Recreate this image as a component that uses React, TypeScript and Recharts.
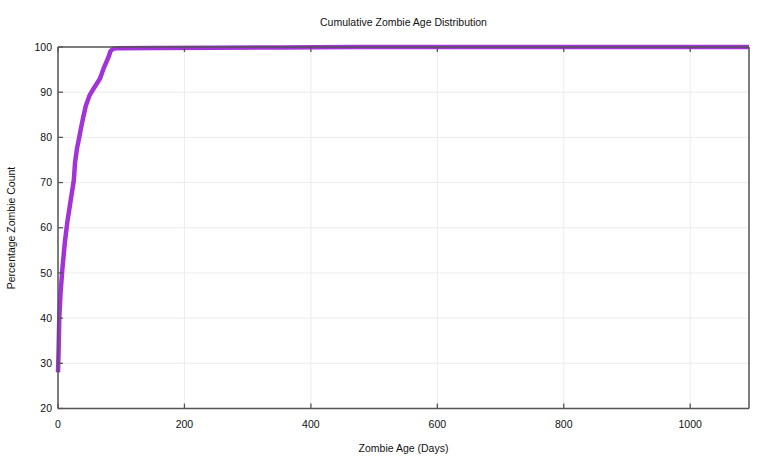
import React from 'react';
import { LineChart, Line, XAxis, YAxis, CartesianGrid } from 'recharts';

// zombie age (days) and cumulative percentage
const ageDays = [0, 1, 2, 4, 7, 11, 15, 20, 25, 27, 30, 34, 37, 40, 44, 50, 55, 60, 66, 69, 72, 77, 80, 83, 87, 95, 150, 250, 350, 470, 600, 800, 1000, 1093];
const cumulativePct = [28, 33, 40, 45.5, 51, 57, 61.5, 66, 70.5, 74.5, 77.5, 80.3, 82.5, 84.5, 87, 89.3, 90.5, 91.6, 92.9, 94, 95.2, 96.8, 97.8, 99.1, 99.6, 99.75, 99.8, 99.85, 99.9, 100, 100, 100, 100, 100];

const xTicks = [0, 200, 400, 600, 800, 1000];
const yTicks = [20, 30, 40, 50, 60, 70, 80, 90, 100];

const FONT = '"Liberation Sans", Arial, Helvetica, sans-serif';
const FRAME = '#555555';

const data = ageDays.map((d, i) => ({ age: d, pct: cumulativePct[i] }));

const tickStyle = { fontSize: 10.5, fill: '#111', fontFamily: FONT };
const noLabel = () => '';

export default function App() {
  return (
    <div style={{ position: 'absolute', left: 0, top: 0, width: 768, height: 461, background: '#fff', fontFamily: FONT }}>
      <div style={{ position: 'absolute', left: 58, width: 691, top: 16, textAlign: 'center', fontSize: 10.5, color: '#111' }}>
        Cumulative Zombie Age Distribution
      </div>
      <LineChart width={768} height={461} data={data} margin={{ top: 46, right: 18, bottom: 0, left: 0 }}>
        <CartesianGrid stroke="#ececec" strokeWidth={1} xAxisId="bottom" yAxisId="left" />
        <Line
          xAxisId="bottom"
          yAxisId="left"
          dataKey="pct"
          type="linear"
          stroke="#a233d8"
          strokeWidth={4.5}
          strokeLinejoin="round"
          dot={false}
          isAnimationActive={false}
        />
        <XAxis
          xAxisId="bottom"
          dataKey="age"
          type="number"
          domain={[0, 1093]}
          ticks={xTicks}
          height={52.5}
          tick={tickStyle}
          tickSize={-5}
          tickMargin={17}
          tickLine={{ stroke: FRAME, strokeWidth: 1.3 }}
          axisLine={{ stroke: FRAME, strokeWidth: 1.5 }}
          label={() => (
            <text x={403.5} y={452} textAnchor="middle" fontSize={10.5} fill="#111" fontFamily={FONT}>
              Zombie Age (Days)
            </text>
          )}
        />
        <XAxis
          xAxisId="top"
          orientation="top"
          dataKey="age"
          type="number"
          domain={[0, 1093]}
          ticks={xTicks}
          height={1}
          tickFormatter={noLabel}
          tickSize={-5}
          tickLine={{ stroke: FRAME, strokeWidth: 1.3 }}
          axisLine={{ stroke: FRAME, strokeWidth: 1.5 }}
        />
        <YAxis
          yAxisId="left"
          type="number"
          domain={[20, 100]}
          ticks={yTicks}
          width={58}
          tick={tickStyle}
          tickSize={-5}
          tickMargin={11}
          tickLine={{ stroke: FRAME, strokeWidth: 1.3 }}
          axisLine={{ stroke: FRAME, strokeWidth: 1.5 }}
          label={() => (
            <text
              x={15}
              y={228}
              transform="rotate(-90 15 228)"
              textAnchor="middle"
              fontSize={10.5}
              fill="#111"
              fontFamily={FONT}
            >
              Percentage Zombie Count
            </text>
          )}
        />
        <YAxis
          yAxisId="right"
          orientation="right"
          type="number"
          domain={[20, 100]}
          ticks={yTicks}
          width={1}
          tickFormatter={noLabel}
          tickSize={-5}
          tickLine={{ stroke: FRAME, strokeWidth: 1.3 }}
          axisLine={{ stroke: FRAME, strokeWidth: 1.5 }}
        />
      </LineChart>
    </div>
  );
}
